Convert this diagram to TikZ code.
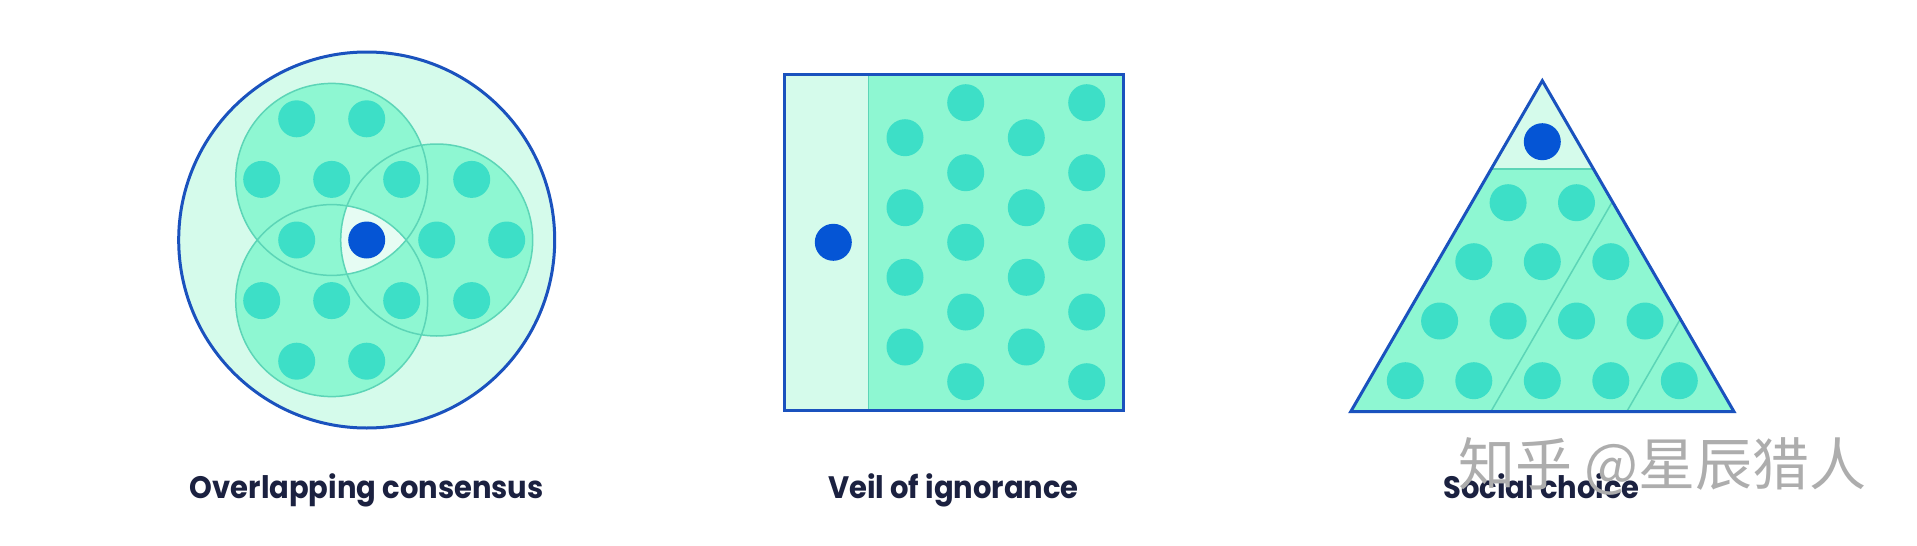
\documentclass[tikz,border=0pt]{standalone}
\usepackage{fontspec}
\setmainfont{Poppins}[FakeStretch=0.935]
\newfontfamily\cjkfont{Noto Sans CJK SC}
\usetikzlibrary{calc}
\definecolor{lightc}{HTML}{D5FBEB}
\definecolor{mintc}{HTML}{8EF7D2}
\definecolor{dotc}{HTML}{3DDFC7}
\definecolor{bluec}{HTML}{0555D5}
\definecolor{outc}{HTML}{1A52BE}
\definecolor{thinc}{HTML}{5CD5B7}
\definecolor{tripc}{HTML}{E6FCF3}
\definecolor{textc}{HTML}{1B2140}
\definecolor{wmc}{HTML}{ADADAD}
\begin{document}
\begin{tikzpicture}[x=1pt,y=-1pt,
  dotfill/.style={fill=dotc},
  bluefill/.style={fill=bluec},
  outline/.style={draw=outc, line width=3pt, line join=miter},
  thinline/.style={draw=thinc, line width=1.5pt},
  lbl/.style={font=\fontsize{31}{36}\selectfont\bfseries, text=textc, anchor=base, inner sep=0pt},
  wm/.style={font=\cjkfont\fontsize{57}{62}\selectfont, text=wmc, anchor=base, inner sep=0pt}]
\useasboundingbox (0,0) rectangle (1917,546);
\fill[white] (0,0) rectangle (1917,546);

% ---------- Overlapping consensus ----------
\coordinate (C) at (366.7,240);
\coordinate (TL) at ($(C)+(-35,-60.6)$);
\coordinate (BLc) at ($(C)+(-35,60.6)$);
\coordinate (Rc) at ($(C)+(70,0)$);
\fill[lightc] (C) circle[radius=188pt];
\fill[mintc] (TL) circle[radius=96pt] (BLc) circle[radius=96pt] (Rc) circle[radius=96pt];
\begin{scope}
  \clip (TL) circle[radius=96pt];
  \clip (BLc) circle[radius=96pt];
  \fill[tripc] (Rc) circle[radius=96pt];
\end{scope}
\foreach \dx/\dy in {-70/-121.2, 0/-121.2,
                     -105/-60.6, -35/-60.6, 35/-60.6, 105/-60.6,
                     -70/0, 70/0, 140/0,
                     -105/60.6, -35/60.6, 35/60.6, 105/60.6,
                     -70/121.2, 0/121.2}
  \fill[dotfill] ($(C)+(\dx,\dy)$) circle[radius=18.5pt];
\draw[thinline] (TL) circle[radius=96pt] (BLc) circle[radius=96pt] (Rc) circle[radius=96pt];
\fill[bluefill] (C) circle[radius=18.5pt];
\draw[outline] (C) circle[radius=188pt];

% ---------- Veil of ignorance ----------
\coordinate (SqTL) at (784,74);
\coordinate (SqBR) at (1123,410);
\coordinate (DivT) at (868.7,74);
\coordinate (DivB) at (868.7,410);
\fill[lightc] (SqTL) rectangle (DivB);
\fill[mintc] (DivT) rectangle (SqBR);
\draw[thinline] (DivT) -- (DivB);
\foreach \x in {905,1026.3}
  \foreach \y in {137.7,207.7,277.3,347}
    \fill[dotfill] (\x,\y) circle[radius=18.5pt];
\foreach \x in {965.7,1086.7}
  \foreach \y in {102.7,172.7,242.3,312,381.7}
    \fill[dotfill] (\x,\y) circle[radius=18.5pt];
\fill[bluefill] (833.3,242.3) circle[radius=18.5pt];
\draw[outline] (SqTL) rectangle (SqBR);

% ---------- Social choice ----------
\coordinate (A) at (1542.3,80.7);
\coordinate (TBL) at (1350.7,411.7);
\coordinate (TBR) at (1734,411.7);
\fill[mintc] (A) -- (TBL) -- (TBR) -- cycle;
\begin{scope}
  \clip (A) -- (TBL) -- (TBR) -- cycle;
  \fill[lightc] (1300,0) rectangle (1800,169);
\end{scope}
\draw[thinline] ($(A)!0.2668!(TBL)$) -- ($(A)!0.2668!(TBR)$);
\draw[thinline] ($(TBL)!0.3655!(TBR)$) -- ($(TBR)!0.6345!(A)$);
\draw[thinline] ($(TBL)!0.72!(TBR)$) -- ($(TBR)!0.28!(A)$);
\foreach \dx/\dy in {-34.2/202.7, 34.2/202.7,
                     -68.5/261.7, 0/261.7, 68.5/261.7,
                     -102.7/321, -34.2/321, 34.2/321, 102.7/321,
                     -137/380.7, -68.5/380.7, 0/380.7, 68.5/380.7, 137/380.7}
  \fill[dotfill] (1542.3+\dx,\dy) circle[radius=18.5pt];
\fill[bluefill] (1542.3,141.7) circle[radius=18.5pt];
\draw[outline] (A) -- (TBL) -- (TBR) -- cycle;

% ---------- labels ----------
\node[lbl] (l1) at (366.7,498) {Overlapping consensus};
\node[lbl] (l2) at (953.5,498) {Veil of ignorance};
\node[lbl] (l3) at (1541.7,498) {Social choice};
\node[wm] (wmark) at (1662.5,485) {知乎 @星辰猎人};
\end{tikzpicture}
\end{document}
